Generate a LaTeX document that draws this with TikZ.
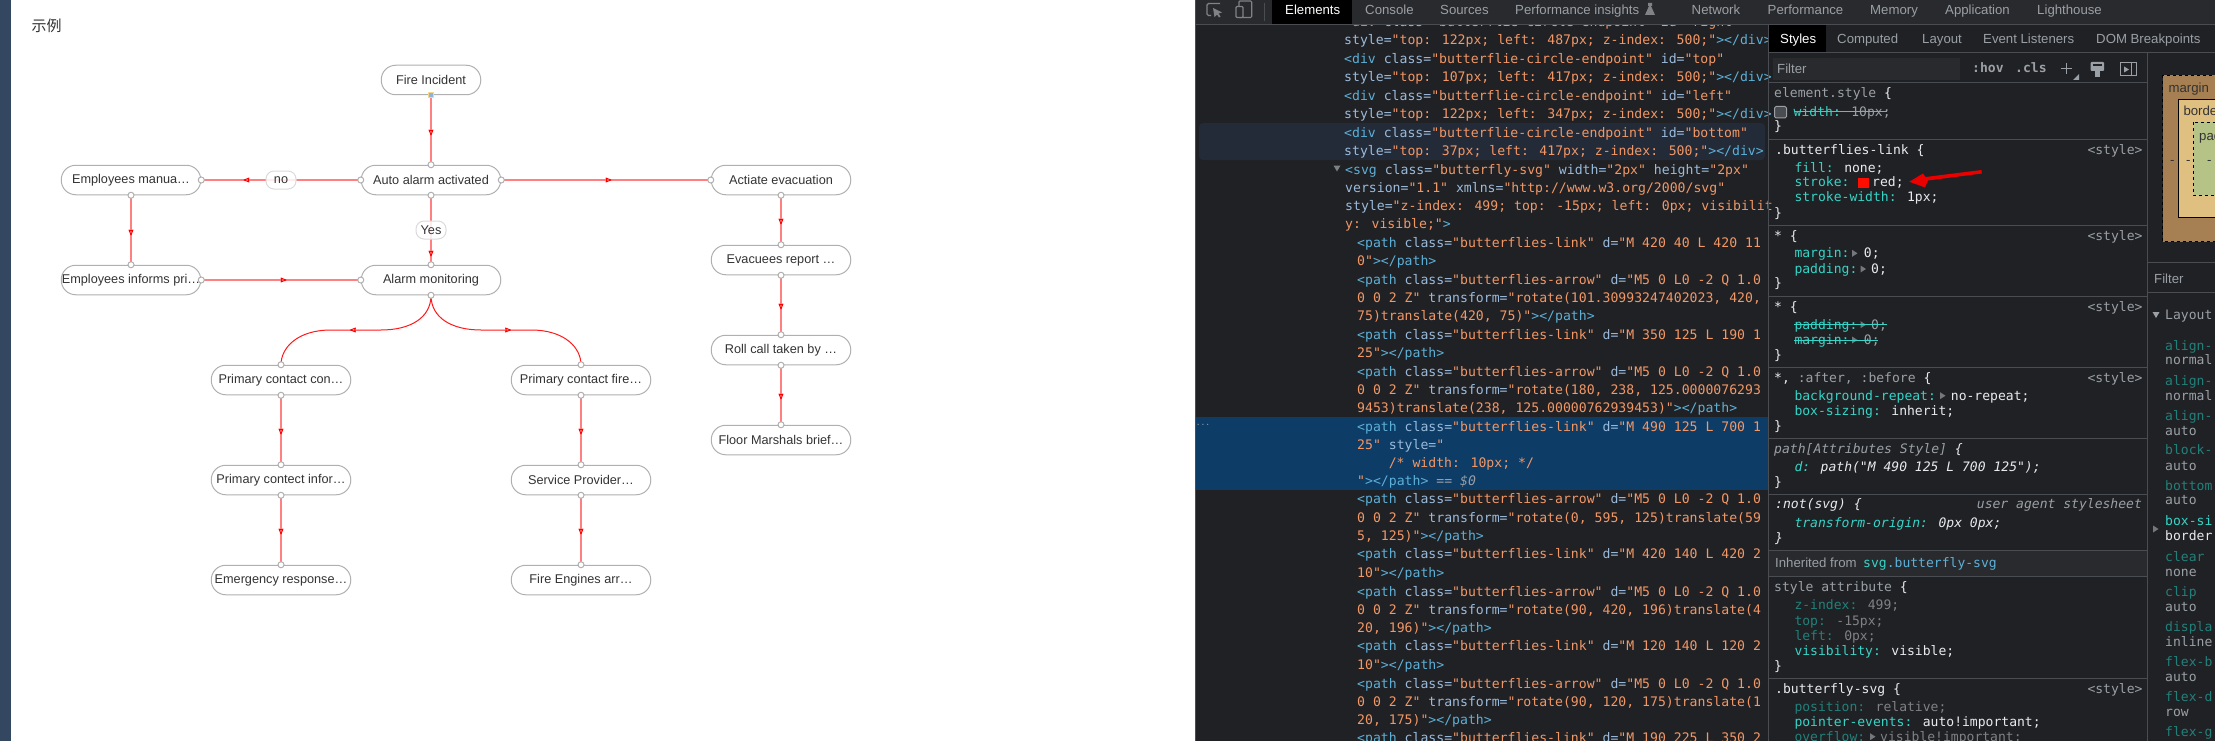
\documentclass[tikz,border=0pt]{standalone}
\usepackage{fontspec}
\setmainfont{Liberation Sans}
\newfontfamily\monof{DejaVu Sans Mono}
\newfontfamily\cjkf{Noto Sans CJK SC}
\definecolor{sidebar}{HTML}{334860}
\definecolor{dtbg}{HTML}{202124}
\definecolor{dtbar}{HTML}{292A2D}
\definecolor{dtline}{HTML}{494C50}
\definecolor{selrow}{HTML}{0D3C66}
\definecolor{hovrow}{HTML}{232B38}
\definecolor{tagc}{HTML}{5DB0D7}
\definecolor{attn}{HTML}{9BBBDC}
\definecolor{attv}{HTML}{F29766}
\definecolor{txtc}{HTML}{E8EAED}
\definecolor{graytx}{HTML}{9AA0A6}
\definecolor{iconc}{HTML}{808285}
\definecolor{prop}{HTML}{35D4C7}
\definecolor{dimprop}{HTML}{22807A}
\definecolor{dimval}{HTML}{7F8185}
\definecolor{linkc}{HTML}{FF8080}
\definecolor{pillc}{HTML}{B0B0B0}
\definecolor{nodetx}{HTML}{333333}
\definecolor{boxm}{HTML}{A67F52}
\definecolor{boxb}{HTML}{E0C080}
\definecolor{boxp}{HTML}{B5C486}
\definecolor{markout}{HTML}{F3D98C}
\definecolor{markin}{HTML}{8DB4DC}
\newcount\txn
\newcommand\fsz[1]{\fontsize{#1}{#1}\selectfont}
\newcommand\Tg[1]{\textcolor{tagc}{#1}}
\newcommand\An[1]{\textcolor{attn}{#1}}
\newcommand\Av[1]{\textcolor{attv}{#1}}
\newcommand\Pn[1]{\textcolor{prop}{#1}}
\newcommand\Vl[1]{\textcolor{txtc}{#1}}
\newcommand\Dp[1]{\textcolor{dimprop}{#1}}
\newcommand\Dv[1]{\textcolor{dimval}{#1}}
\newcommand\Gy[1]{\textcolor{graytx}{#1}}
\newcommand\DivLine[1]{\Tg{<div} \An{class=}\Av{"butterflie-circle-endpoint"} \An{id=}\Av{"#1"}}
\newcommand\StyLine[2]{\An{style=}\Av{"top: #1px; left: #2px; z-index: 500;"}\Tg{></div>}}
\newcommand\PathLink[1]{\Tg{<path} \An{class=}\Av{"butterflies-link"} \An{d=}\Av{"#1}}
\newcommand\PathArrow{\Tg{<path} \An{class=}\Av{"butterflies-arrow"} \An{d=}\Av{"M5 0 L0 -2 Q 1.0}}
\newcommand\DomT[3]{\global\advance\txn by 1 \node[domtext] (t\the\txn) at (#1,#2+4.9) {#3};}
\newcommand\StT[3]{\global\advance\txn by 1 \node[styletext] (t\the\txn) at (#1,#2+4.6) {#3};}
\newcommand\StR[1]{\global\advance\txn by 1 \node[styleright] (t\the\txn) at (2142.7,#1+4.6) {\Gy{<style>}};}
\newcommand\UiT[4][graytx]{\global\advance\txn by 1 \node[uitext,text=#1] (t\the\txn) at (#2,#3+4.6) {#4};}
\newcommand\ArrowMark[3]{\draw[arrowhd,shift={(#1,#2)},rotate=-#3] (5,0) -- (0,-2) .. controls (1,0) .. (0,2) -- cycle;}
\newcommand\Tri[2]{\fill[graytx!75!black,shift={(#1,#2)}] (0,-3.5) -- (5.5,0) -- (0,3.5) -- cycle;}
\newcommand\Strike[4]{\draw[#4,line width=.9] (#1,#3) -- (#2,#3);}
\tikzset{
  x=1pt,y=-1pt,
  domtext/.style={anchor=base west,inner sep=0,text=txtc,font=\monof\fsz{13.15}},
  styletext/.style={anchor=base west,inner sep=0,text=txtc,font=\monof\fsz{13.05}},
  styleright/.style={anchor=base east,inner sep=0,font=\monof\fsz{13.05}},
  uitext/.style={anchor=base west,inner sep=0,font=\fsz{13.2}},
  pill/.style={draw=pillc,fill=white,line width=1,rounded corners=14.5,minimum height=29.5,minimum width=139.5,inner sep=0,text=nodetx,font=\fsz{12.7}},
  smallpill/.style={pill,minimum width=99.5},
  lab/.style={draw=black!14,fill=white,fill opacity=.85,text opacity=1,line width=1,rounded corners=8,minimum height=18,minimum width=30,inner sep=0,text=nodetx,font=\fsz{12.7}},
  ep/.style={circle,draw=pillc,fill=white,line width=1,minimum size=6,inner sep=0},
  linkln/.style={draw=linkc,line width=2},
  curveln/.style={draw=red!90,line width=1},
  arrowhd/.style={draw=red,line width=.9,fill=none,line join=round},
}
\begin{document}
\begin{tikzpicture}
\path[use as bounding box] (0,0) rectangle (2215,741);
\clip (0,0) rectangle (2215,741);
% page
\fill[white] (0,0) rectangle (1196,741);
\fill[sidebar] (0,0) rectangle (11.3,741);
\node[anchor=west,inner sep=0,text=nodetx,font=\cjkf\fsz{15}] (title) at (31.5,25.5) {示例};
% diagram nodes
\node[smallpill] (fire) at (431,80) {Fire Incident};
\node[pill] (auto) at (431,180) {Auto alarm activated};
\node[pill] (manual) at (131,180) {Employees manua…};
\node[pill] (informs) at (131,280) {Employees informs pri…};
\node[pill] (monitor) at (431,280) {Alarm monitoring};
\node[pill] (evac) at (781,180) {Actiate evacuation};
\node[pill] (report) at (781,260) {Evacuees report …};
\node[pill] (roll) at (781,350) {Roll call taken by …};
\node[pill] (floor) at (781,440) {Floor Marshals brief…};
\node[pill] (pcon) at (281,380) {Primary contact con…};
\node[pill] (pinfo) at (281,480) {Primary contect infor…};
\node[pill] (emerg) at (281,580) {Emergency response…};
\node[pill] (pfire) at (581,380) {Primary contact fire…};
\node[pill] (serv) at (581,480) {Service Provider…};
\node[pill] (engines) at (581,580) {Fire Engines arr…};
% links
\foreach \a/\b in {fire.south/auto.north,auto.south/monitor.north,manual.south/informs.north,
  auto.west/manual.east,auto.east/evac.west,informs.east/monitor.west,
  evac.south/report.north,report.south/roll.north,roll.south/floor.north,
  pcon.south/pinfo.north,pinfo.south/emerg.north,pfire.south/serv.north,serv.south/engines.north}
  {\draw[linkln] (\a) -- (\b);}
\coordinate (lc1) at (381,330);
\coordinate (lc2) at (331,330);
\coordinate (rc1) at (481,330);
\coordinate (rc2) at (531,330);
\draw[curveln] (monitor.south) .. controls (431,318) and (410,330) .. (lc1) -- (lc2) .. controls (297,330) and (281,348) .. (pcon.north);
\draw[curveln] (monitor.south) .. controls (431,318) and (452,330) .. (rc1) -- (rc2) .. controls (565,330) and (581,348) .. (pfire.north);
% arrow marks
\ArrowMark{431}{130}{90}
\ArrowMark{249}{180}{180}
\ArrowMark{606}{180}{0}
\ArrowMark{431}{251}{90}
\ArrowMark{131}{230}{90}
\ArrowMark{281}{280}{0}
\ArrowMark{781}{219}{90}
\ArrowMark{781}{304}{90}
\ArrowMark{781}{394}{90}
\ArrowMark{355.5}{330}{180}
\ArrowMark{505.5}{330}{0}
\ArrowMark{281}{429}{90}
\ArrowMark{281}{529}{90}
\ArrowMark{581}{429}{90}
\ArrowMark{581}{529}{90}
% link labels
\node[lab] (lno) at (281,180) {no};
\node[lab] (lyes) at (431,230) {Yes};
% endpoints
\foreach \n/\a in {auto/north,auto/south,auto/west,auto/east,manual/east,manual/south,informs/north,informs/east,
  monitor/north,monitor/west,monitor/south,evac/west,evac/south,report/north,report/south,roll/north,roll/south,floor/north,
  pcon/north,pcon/south,pinfo/north,pinfo/south,emerg/north,pfire/north,pfire/south,serv/north,serv/south,engines/north}
  {\node[ep] (\n-\a) at (\n.\a) {};}
\node[fill=markout,minimum size=6,inner sep=0] (fire-mark) at (fire.south) {};
\node[fill=markin,minimum size=4.4,inner sep=0] (fire-core) at (fire.south) {};
% devtools background
\fill[dtbg] (1195,0) rectangle (2215,741);
\draw[dtline,line width=1] (1195.5,0) -- (1195.5,741);
% DOM rows
\fill[hovrow,rounded corners=4] (1199,123) rectangle (1765,160);
\fill[selrow] (1196,417) rectangle (1767.5,490);
\DomT{1344}{21.3}{\DivLine{right}}
\DomT{1344}{39.3}{\StyLine{122}{487}}
\DomT{1344}{58.3}{\DivLine{top}}
\DomT{1344}{76.3}{\StyLine{107}{417}}
\DomT{1344}{95.7}{\DivLine{left}}
\DomT{1344}{113.3}{\StyLine{122}{347}}
\DomT{1344}{132.3}{\DivLine{bottom}}
\DomT{1344}{150.3}{\StyLine{37}{417}}
\fill[graytx!80!black] (1333.5,165.5) -- (1340.5,165.5) -- (1337,171.5) -- cycle;
\DomT{1345}{169.3}{\Tg{<svg} \An{class=}\Av{"butterfly-svg"} \An{width=}\Av{"2px"} \An{height=}\Av{"2px"}}
\DomT{1345}{187.7}{\An{version=}\Av{"1.1"} \An{xmlns=}\Av{"http://www.w3.org/2000/svg"}}
\DomT{1345}{205.7}{\An{style=}\Av{"z-index: 499; top: -15px; left: 0px; visibilit}}
\DomT{1345}{223.7}{\Av{y: visible;"}\Tg{>}}
\DomT{1357}{242.3}{\PathLink{M 420 40 L 420 11}}
\DomT{1357}{260.3}{\Av{0"}\Tg{></path>}}
\DomT{1357}{279.3}{\PathArrow}
\DomT{1357}{297.3}{\Av{0 0 2 Z"} \An{transform=}\Av{"rotate(101.30993247402023, 420,}}
\DomT{1357}{315.3}{\Av{75)translate(420, 75)"}\Tg{></path>}}
\DomT{1357}{334.3}{\PathLink{M 350 125 L 190 1}}
\DomT{1357}{352.3}{\Av{25"}\Tg{></path>}}
\DomT{1357}{371.3}{\PathArrow}
\DomT{1357}{389.3}{\Av{0 0 2 Z"} \An{transform=}\Av{"rotate(180, 238, 125.0000076293}}
\DomT{1357}{407.3}{\Av{9453)translate(238, 125.00000762939453)"}\Tg{></path>}}
\DomT{1357}{426.3}{\PathLink{M 490 125 L 700 1}}
\DomT{1357}{444.3}{\Av{25"} \An{style=}\Av{"}}
\DomT{1388.6}{462.3}{\Av{/* width: 10px; */}}
\DomT{1357}{480.3}{\Av{"}\Tg{></path>} \Gy{== \itshape\$0}}
\DomT{1357}{499}{\PathArrow}
\DomT{1357}{517.3}{\Av{0 0 2 Z"} \An{transform=}\Av{"rotate(0, 595, 125)translate(59}}
\DomT{1357}{535.3}{\Av{5, 125)"}\Tg{></path>}}
\DomT{1357}{554}{\PathLink{M 420 140 L 420 2}}
\DomT{1357}{572.7}{\Av{10"}\Tg{></path>}}
\DomT{1357}{591.3}{\PathArrow}
\DomT{1357}{609.3}{\Av{0 0 2 Z"} \An{transform=}\Av{"rotate(90, 420, 196)translate(4}}
\DomT{1357}{627.3}{\Av{20, 196)"}\Tg{></path>}}
\DomT{1357}{646}{\PathLink{M 120 140 L 120 2}}
\DomT{1357}{664.3}{\Av{10"}\Tg{></path>}}
\DomT{1357}{683.3}{\PathArrow}
\DomT{1357}{701.3}{\Av{0 0 2 Z"} \An{transform=}\Av{"rotate(90, 120, 175)translate(1}}
\DomT{1357}{719.3}{\Av{20, 175)"}\Tg{></path>}}
\DomT{1357}{738}{\PathLink{M 190 225 L 350 2}}
\node[inner sep=0,text=graytx,font=\monof\fsz{8}] (dots) at (1203,425) {...};
% tab bar
\fill[dtbar] (1196,0) rectangle (2215,24);
\draw[dtline,line width=1] (1196,24.5) -- (2215,24.5);
\fill[black] (1272,0) rectangle (1352,24);
\UiT[white]{1285}{10}{Elements}
\UiT{1365}{10}{Console}
\UiT{1440}{10}{Sources}
\UiT{1515}{10}{Performance insights}
\fill[iconc] (1648,3) rectangle (1652,6) (1649,6) -- (1651,6) -- (1655,15) -- (1645,15) -- cycle;
\UiT{1691.5}{10}{Network}
\UiT{1767.5}{10}{Performance}
\UiT{1870}{10}{Memory}
\UiT{1945}{10}{Application}
\UiT{2037}{10}{Lighthouse}
% toolbar icons
\draw[iconc,line width=1.1,rounded corners=1.5] (1220,3.5) -- (1207,3.5) -- (1207,15.5) -- (1211,15.5);
\fill[iconc] (1213,8) -- (1222,12.5) -- (1218.5,13.5) -- (1220.5,16.5) -- (1219,17.5) -- (1217,14.5) -- (1214.5,17) -- cycle;
\draw[iconc,line width=1.1,rounded corners=1] (1239,1) rectangle (1251.7,17.5);
\fill[dtbar] (1236,6) rectangle (1243,18);
\draw[iconc,line width=1.1,rounded corners=1] (1236,6.5) rectangle (1243,17.5);
\draw[dtline,line width=1] (1264.5,3) -- (1264.5,21);
% vertical panel dividers
\draw[dtline,line width=1] (1768,24) -- (1768,741);
\draw[dtline,line width=1] (2147,53) -- (2147,741);
% styles header
\fill[black] (1768.5,25) rectangle (1826,53);
\UiT[white]{1780}{38.5}{Styles}
\UiT{1837}{38.5}{Computed}
\UiT{1922}{38.5}{Layout}
\UiT{1983}{38.5}{Event Listeners}
\UiT{2096}{38.5}{DOM Breakpoints}
\draw[dtline,line width=1] (1768,53) -- (2215,53);
% filter row
\fill[dtbar] (1773,58) rectangle (1960,80);
\UiT{1777}{69}{Filter}
\StT{1972}{68}{\bfseries\Gy{:hov}}
\StT{2015}{68}{\bfseries\Gy{.cls}}
\draw[graytx,line width=1] (2061,69) -- (2072,69) (2066.5,63.5) -- (2066.5,74.5);
\fill[graytx] (2079,74) -- (2079,80) -- (2073,80) -- cycle;
\fill[graytx,rounded corners=1] (2090.5,62) rectangle (2104,71);
\fill[dtbg] (2092.5,64) rectangle (2102,66);
\fill[graytx] (2095,71) rectangle (2099.5,77);
\draw[graytx,line width=1] (2120.5,63) rectangle (2136,76) (2131,63) -- (2131,76);
\fill[graytx] (2124,66.5) -- (2129,69.5) -- (2124,72.5) -- cycle;
\draw[dtline,line width=1] (1768,83) -- (2147,83);
% rule separators
\foreach \yy in {139.3,225.3,296.3,367.3,438.3,494.3,550.3,576.7,678.3} {\draw[dtline,line width=1] (1768,\yy) -- (2147,\yy);}
\fill[dtbar] (1768.5,550.8) rectangle (2146.5,576.2);
% style rules
\StT{1774}{93.3}{\Gy{element.style} \{}
\draw[graytx,fill=dtline,line width=1,rounded corners=1.5] (1774.5,106.5) rectangle (1786.5,118);
\StT{1793.5}{111.7}{\Pn{width:} \Gy{10px;}}
\Strike{1793.5}{1887}{111.7}{graytx}
\StT{1774}{126}{\}}
\StT{1775}{149.7}{.butterflies-link \{}\StR{149.7}
\StT{1794.3}{167.7}{\Pn{fill:} \Vl{none;}}
\StT{1794.3}{182.3}{\Pn{stroke:}}
\fill[red!90!orange] (1858,177.5) rectangle (1869,187.7);
\StT{1872}{182.3}{\Vl{red;}}
\StT{1794.3}{197.3}{\Pn{stroke-width:} \Vl{1px;}}
\StT{1774}{212.7}{\}}
\fill[red!92!black] (1981.5,170) -- (1981.8,173.5) -- (1928,180.5) -- (1925,187.5) -- (1909.3,181.7) -- (1923,173.5) -- (1925.5,177) -- cycle;
\StT{1774}{235.7}{* \{}\StR{235.7}
\StT{1794.3}{253.3}{\Pn{margin:}}
\Tri{1852}{253.3}
\StT{1863.7}{253.3}{0;}
\StT{1794.3}{269}{\Pn{padding:}}
\Tri{1860.5}{269}
\StT{1871}{269}{0;}
\StT{1774}{283.3}{\}}
\StT{1774}{306.7}{* \{}\StR{306.7}
\StT{1794.3}{324.7}{\Pn{padding:}}
\Tri{1860.5}{324.7}
\StT{1871}{324.7}{\Gy{0;}}
\Strike{1794.3}{1887}{324.7}{prop}
\StT{1794.3}{340}{\Pn{margin:}}
\Tri{1852}{340}
\StT{1863.7}{340}{\Gy{0;}}
\Strike{1794.3}{1878}{340}{prop}
\StT{1774}{355}{\}}
\StT{1774}{377.7}{*, \Gy{:after, :before} \{}\StR{377.7}
\StT{1794.3}{395.7}{\Pn{background-repeat:}}
\Tri{1940}{395.7}
\StT{1950.7}{395.7}{\Vl{no-repeat;}}
\StT{1794.3}{410.7}{\Pn{box-sizing:} \Vl{inherit;}}
\StT{1774}{426}{\}}
\StT{1774}{448.7}{\itshape\Gy{path[Attributes Style]} \{}
\StT{1794.3}{466.7}{\itshape\Pn{d:} \Vl{path("M 490 125 L 700 125");}}
\StT{1774}{481.7}{\}}
\StT{1775}{504.3}{\itshape :not(svg) \{}
\StT{1976.7}{504.3}{\itshape\Gy{user agent stylesheet}}
\StT{1794.3}{522.7}{\itshape\Pn{transform-origin:} \Vl{0px 0px;}}
\StT{1775}{537.7}{\itshape \}}
\UiT{1775}{563.3}{Inherited from}
\StT{1863}{563.3}{\Pn{svg}\Tg{.butterfly-svg}}
\StT{1774}{587.3}{\Gy{style attribute} \{}
\StT{1794.3}{604.7}{\Dp{z-index:} \Dv{499;}}
\StT{1794.3}{620.7}{\Dp{top:} \Dv{-15px;}}
\StT{1794.3}{635.7}{\Dp{left:} \Dv{0px;}}
\StT{1794.3}{650.7}{\Pn{visibility:} \Vl{visible;}}
\StT{1774}{665.7}{\}}
\StT{1775}{688.7}{.butterfly-svg \{}\StR{688.7}
\StT{1794.3}{706.7}{\Dp{position:} \Dv{relative;}}
\StT{1794.3}{721.7}{\Pn{pointer-events:} \Vl{auto!important;}}
\StT{1794.3}{736.7}{\Dp{overflow:}}
\Tri{1870}{736.7}
\StT{1880}{736.7}{\Dv{visible!important;}}
% box model
\filldraw[draw=black,dashed,fill=boxm,line width=1] (2162.5,75.5) rectangle (2225,241.5);
\filldraw[draw=black,fill=boxb,line width=1] (2178.5,99.5) rectangle (2225,217.5);
\filldraw[draw=black,dashed,fill=boxp,line width=1] (2193.5,122.5) rectangle (2225,195);
\UiT[nodetx]{2168.3}{87.5}{margin}
\UiT[nodetx]{2183.3}{111}{borde}
\UiT[nodetx]{2199}{136}{pad}
\UiT[nodetx]{2170}{160}{-}
\UiT[nodetx]{2186}{160}{-}
\UiT[nodetx]{2207}{160}{-}
% computed pane
\draw[dtline,line width=1] (2147,262.5) -- (2215,262.5) (2147,292.3) -- (2215,292.3);
\UiT{2154}{279}{Filter}
\fill[graytx] (2152.5,312) -- (2159.5,312) -- (2156,318) -- cycle;
\StT{2165}{315}{\Gy{Layout}}
\StT{2165}{346}{\Dp{align-}}
\StT{2165}{360}{\Gy{normal}}
\StT{2165}{381}{\Dp{align-}}
\StT{2165}{395.7}{\Gy{normal}}
\StT{2165}{415.7}{\Dp{align-}}
\StT{2165}{430.7}{\Gy{auto}}
\StT{2165}{450.3}{\Dp{block-}}
\StT{2165}{465.7}{\Gy{auto}}
\StT{2165}{485.7}{\Dp{bottom}}
\StT{2165}{500.3}{\Gy{auto}}
\Tri{2153}{529}
\StT{2165}{521.3}{\Pn{box-si}}
\StT{2165}{536.3}{\Vl{border}}
\StT{2165}{556.7}{\Dp{clear}}
\StT{2165}{571.7}{\Gy{none}}
\StT{2165}{591.7}{\Dp{clip}}
\StT{2165}{606.7}{\Gy{auto}}
\StT{2165}{626.7}{\Dp{displa}}
\StT{2165}{641.7}{\Gy{inline}}
\StT{2165}{661.7}{\Dp{flex-b}}
\StT{2165}{676.7}{\Gy{auto}}
\StT{2165}{697}{\Dp{flex-d}}
\StT{2165}{712.3}{\Gy{row}}
\StT{2165}{732.3}{\Dp{flex-g}}
\end{tikzpicture}
\end{document}
